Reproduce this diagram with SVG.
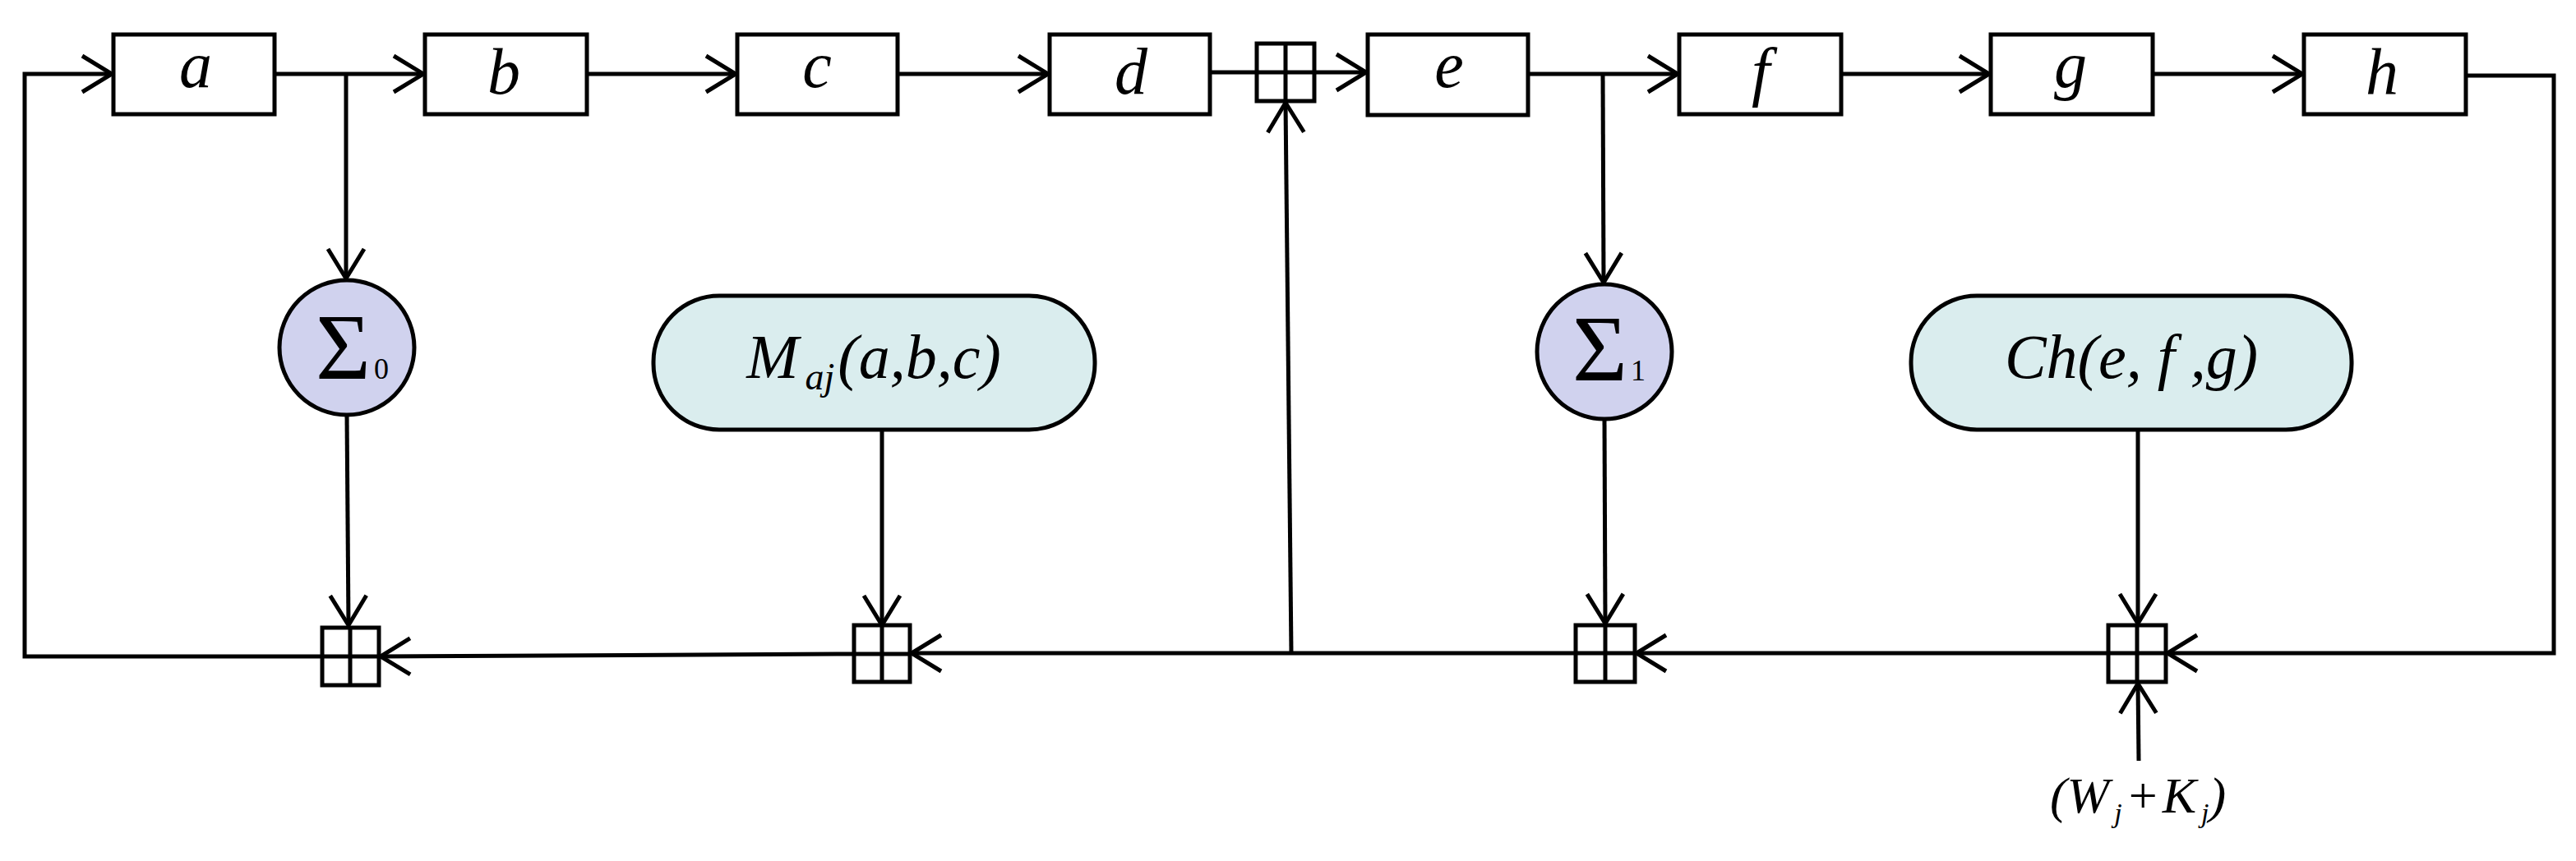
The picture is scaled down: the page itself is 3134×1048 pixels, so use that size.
<svg xmlns="http://www.w3.org/2000/svg" width="3134" height="1048" viewBox="0 0 3134 1048">
<style>
.box{fill:#fff;stroke:#000;stroke-width:5}
.pill{fill:#daedee;stroke:#000;stroke-width:5}
.sig{fill:#d0d2ee;stroke:#000;stroke-width:5}
.add{fill:#fff;stroke:#000;stroke-width:5}
.ln{fill:none;stroke:#000;stroke-width:5}
.t{font-family:"Liberation Serif",serif;font-style:italic;fill:#000;text-anchor:middle}
.s{font-family:"Liberation Serif",serif;fill:#000}
</style>
<defs>
<marker id="ar" markerUnits="userSpaceOnUse" markerWidth="50" markerHeight="60" refX="38" refY="25" orient="auto">
<path d="M2,3 L38,25 L2,47" fill="none" stroke="#000" stroke-width="5"/>
</marker>
</defs>
<g id="connectors" class="ln">
<path d="M392,799 L30,799 L30,90 L136,90" marker-end="url(#ar)"/>
<path d="M334,90 L515,90" marker-end="url(#ar)"/>
<path d="M421,90 L421,339" marker-end="url(#ar)"/>
<path d="M422,505 L424,761" marker-end="url(#ar)"/>
<path d="M714,90 L895,90" marker-end="url(#ar)"/>
<path d="M1092,90 L1275,90" marker-end="url(#ar)"/>
<path d="M1472,88 L1529,88"/>
<path d="M1599,88 L1662,88" marker-end="url(#ar)"/>
<path d="M1859,90 L2041,90" marker-end="url(#ar)"/>
<path d="M1950,90 L1951,344" marker-end="url(#ar)"/>
<path d="M1952,510 L1953,759" marker-end="url(#ar)"/>
<path d="M2240,90 L2420,90" marker-end="url(#ar)"/>
<path d="M2619,90 L2801,90" marker-end="url(#ar)"/>
<path d="M3000,92 L3107,92 L3107,795 L2637,795" marker-end="url(#ar)"/>
<path d="M2601,523 L2601,759" marker-end="url(#ar)"/>
<path d="M2602,926 L2601,832" marker-end="url(#ar)"/>
<path d="M2565,795 L1991,795" marker-end="url(#ar)"/>
<path d="M1917,795 L1109,795" marker-end="url(#ar)"/>
<path d="M1571,795 L1564,125" marker-end="url(#ar)"/>
<path d="M1039,796 L463,799" marker-end="url(#ar)"/>
<path d="M1073,523 L1073,761" marker-end="url(#ar)"/>
</g>
<g id="a"><rect class="box" x="138" y="42" width="196" height="97"/><text class="t" x="238" y="106" font-size="80">a</text></g>
<g id="b"><rect class="box" x="517" y="42" width="197" height="97"/><text class="t" x="613" y="114" font-size="80">b</text></g>
<g id="c"><rect class="box" x="897" y="42" width="195" height="97"/><text class="t" x="994" y="106" font-size="80">c</text></g>
<g id="d"><rect class="box" x="1277" y="42" width="195" height="97"/><text class="t" x="1376" y="114" font-size="80">d</text></g>
<g id="e"><rect class="box" x="1664" y="42" width="195" height="98"/><text class="t" x="1763" y="106" font-size="80">e</text></g>
<g id="f"><rect class="box" x="2043" y="42" width="197" height="97"/><text class="t" x="2142" y="114" font-size="80">f</text></g>
<g id="g"><rect class="box" x="2422" y="42" width="197" height="97"/><text class="t" x="2519" y="106" font-size="80">g</text></g>
<g id="h"><rect class="box" x="2803" y="42" width="197" height="97"/><text class="t" x="2898" y="114" font-size="80">h</text></g>
<g id="sigma0"><circle class="sig" cx="422" cy="423" r="82"/><text class="s" x="384" y="461" font-size="115">Σ<tspan font-size="36" dx="4">0</tspan></text></g>
<g id="sigma1"><circle class="sig" cx="1952" cy="428" r="82"/><text class="s" x="1913" y="463" font-size="115">Σ<tspan font-size="36" dx="4">1</tspan></text></g>
<g id="maj"><rect class="pill" x="795" y="360" width="537" height="163" rx="80"/><text class="t" x="1063" y="460" font-size="76">M<tspan font-size="46" dx="8" dy="14">aj</tspan><tspan dx="4" dy="-14">(a,b,c)</tspan></text></g>
<g id="ch"><rect class="pill" x="2325" y="360" width="536" height="163" rx="80"/><text class="t" x="2593" y="460" font-size="76">Ch(e, f ,g)</text></g>
<g id="add_top"><rect class="add" x="1529" y="53" width="70" height="70"/><path class="ln" d="M1564,53 V123 M1529,88 H1599"/></g>
<g id="add0"><rect class="add" x="392" y="764" width="69" height="70"/><path class="ln" d="M426,764 V834 M392,799 H461"/></g>
<g id="add1"><rect class="add" x="1039" y="761" width="68" height="69"/><path class="ln" d="M1073,761 V830 M1039,796 H1107"/></g>
<g id="add2"><rect class="add" x="1917" y="761" width="72" height="69"/><path class="ln" d="M1953,761 V830 M1917,795 H1989"/></g>
<g id="add3"><rect class="add" x="2565" y="761" width="70" height="69"/><path class="ln" d="M2600,761 V830 M2565,795 H2635"/></g>
<g id="wk"><text class="t" x="2601" y="989" font-size="62">(W<tspan font-size="34" dx="6" dy="12">j</tspan><tspan dx="8" dy="-12" font-style="normal">+</tspan><tspan dx="6">K</tspan><tspan font-size="34" dx="6" dy="12">j</tspan><tspan dy="-12">)</tspan></text></g>
</svg>
